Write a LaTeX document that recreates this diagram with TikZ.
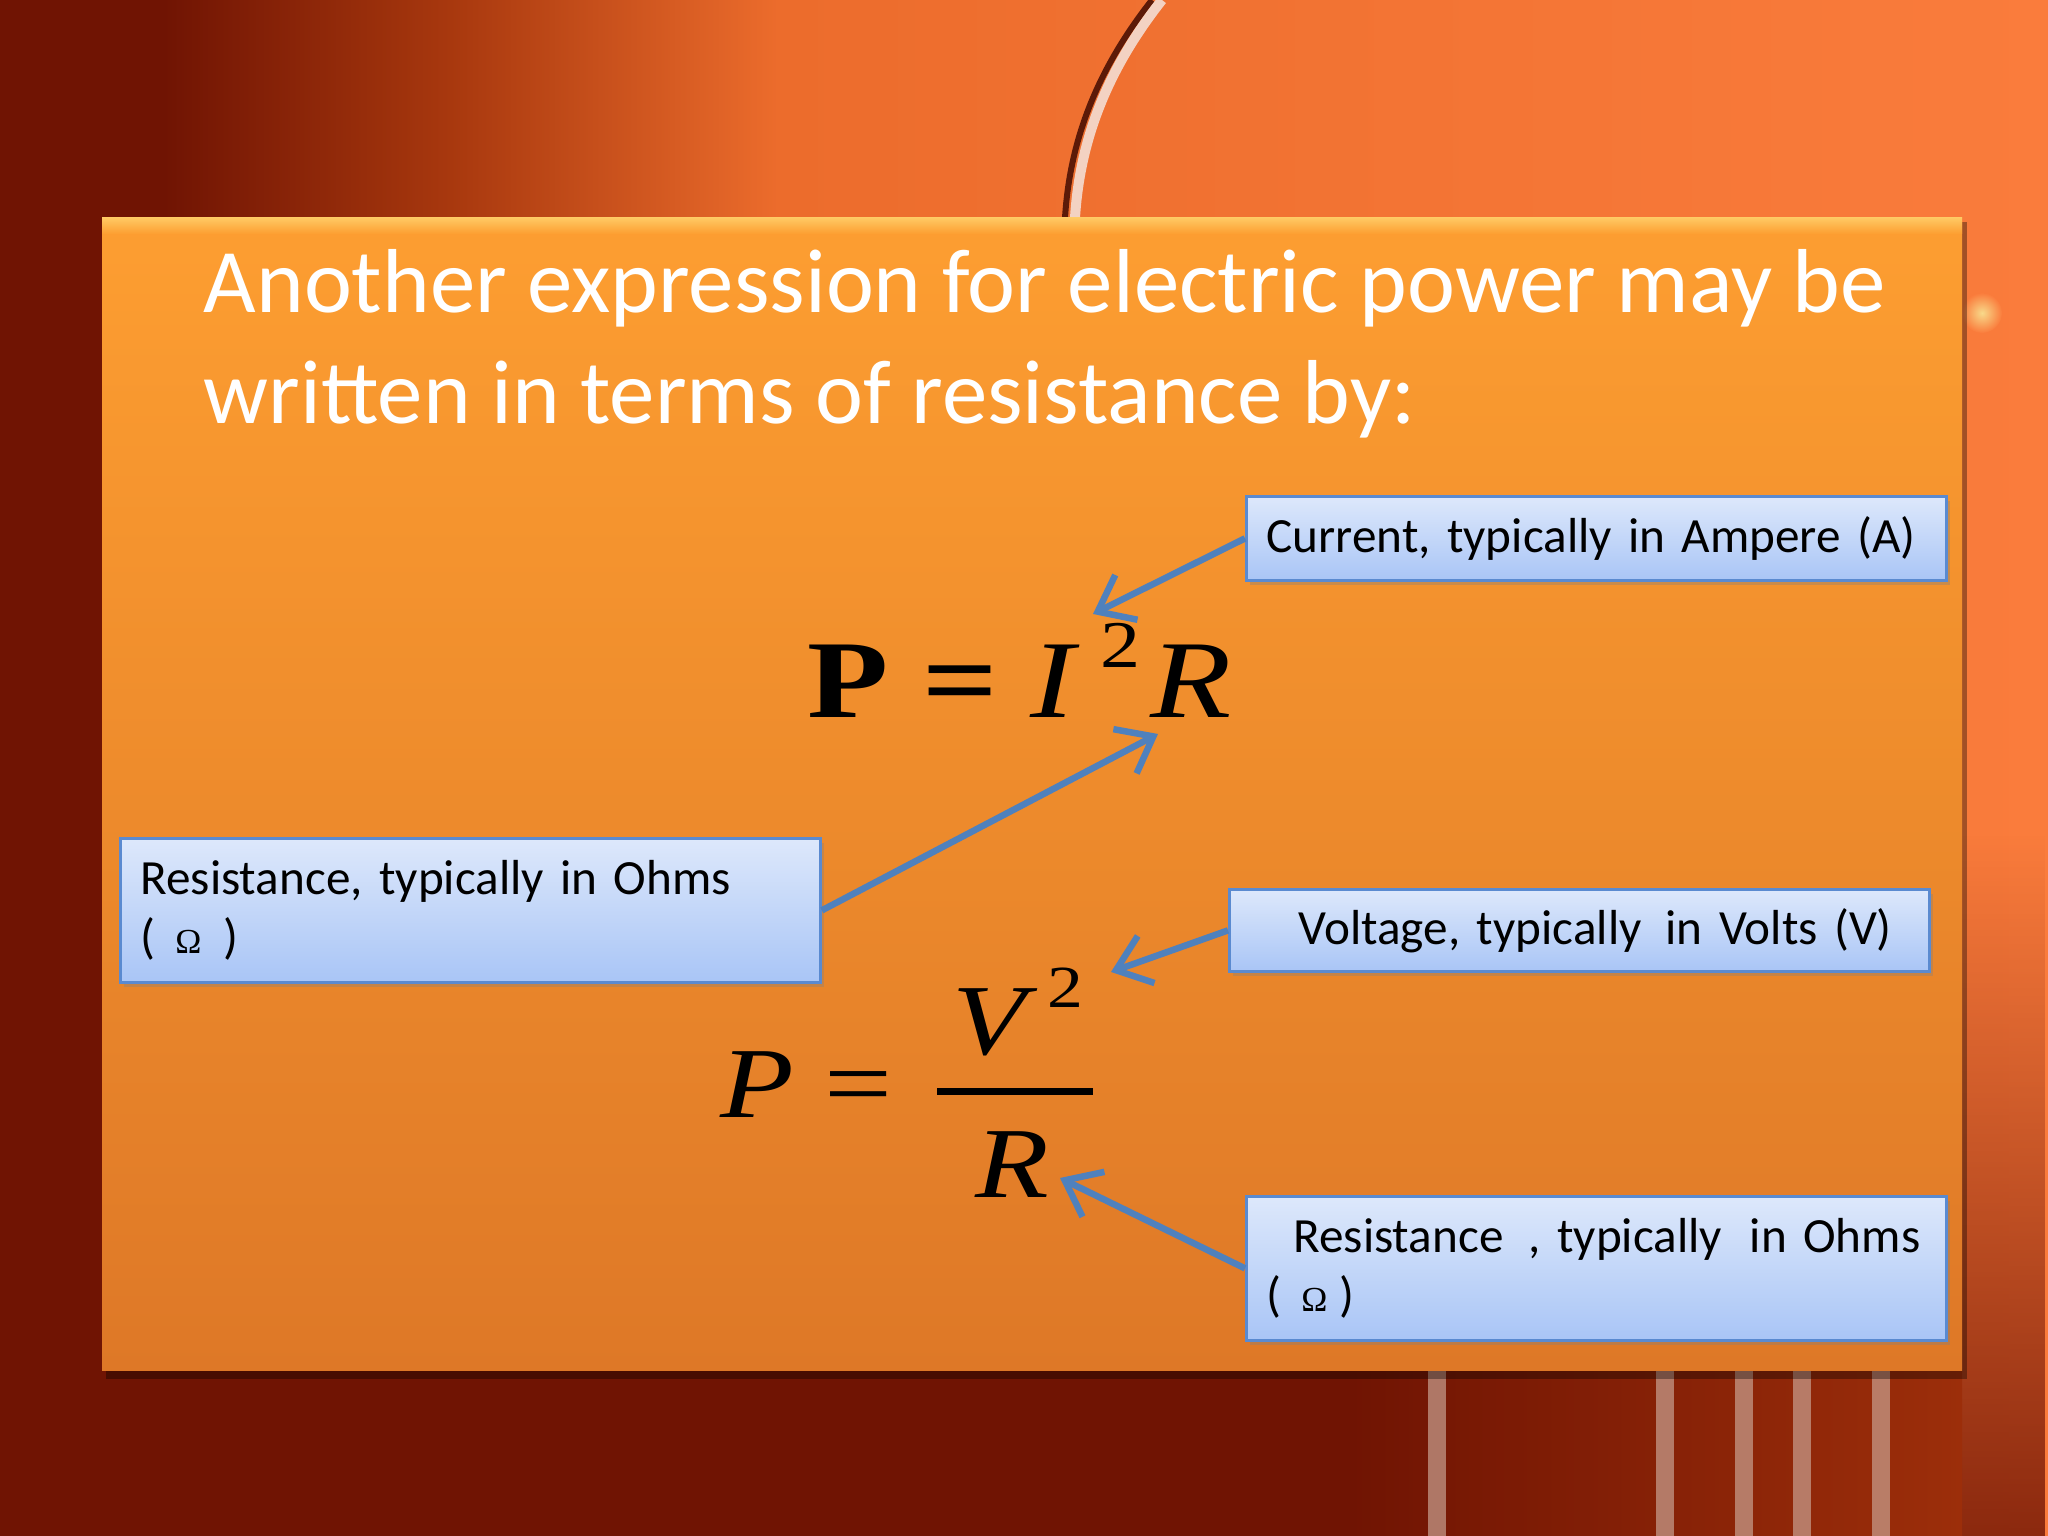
\documentclass[tikz,border=0pt]{standalone}
\usepackage{fontspec}
\setmainfont{Carlito}
\newfontfamily\eqfont[FakeStretch=1.2]{Liberation Serif}
\newfontfamily\symfont{Liberation Serif}
\usetikzlibrary{arrows.meta,shadows,fadings}
\definecolor{bgdeep}{HTML}{701403}
\definecolor{bgrust}{HTML}{A8380E}
\definecolor{rustdark}{HTML}{9C2E0A}
\definecolor{bgorange}{HTML}{EC6C2C}
\definecolor{bglight}{HTML}{FA7C3C}
\definecolor{panelhi}{HTML}{FD9E31}
\definecolor{panello}{HTML}{DE7827}
\definecolor{panelrim}{HTML}{FFC862}
\definecolor{boxtop}{HTML}{DDE8FB}
\definecolor{boxbottom}{HTML}{A9C5F6}
\definecolor{boxline}{HTML}{5A8AD0}
\definecolor{arrowblue}{HTML}{4F81BD}
\definecolor{rod}{HTML}{C8A090}
\definecolor{bulbedge}{HTML}{5C1A08}
\definecolor{bulbglass}{HTML}{F3D2C2}
\definecolor{glint}{HTML}{F8D98A}
\pgfdeclarehorizontalshading{backdrop}{100bp}{color(0bp)=(bgdeep); color(29bp)=(bgdeep); color(36bp)=(bgrust); color(44bp)=(bgorange); color(75bp)=(bglight); color(100bp)=(bglight)}

\begin{document}
\begin{tikzpicture}[
    callout/.style={draw=boxline, line width=0.8pt, top color=boxtop, bottom color=boxbottom,
      anchor=north west, minimum width=7cm, text width=6.6cm, inner xsep=0.2cm, inner ysep=0pt,
      align=left, text=black, font=\fontsize{14pt}{17pt}\selectfont,
      drop shadow={shadow xshift=0.04cm, shadow yshift=-0.05cm, opacity=0.35}},
    pointer/.style={draw=arrowblue, line width=0.065cm, -{Straight Barb[length=0.32cm,width=0.5cm]}},
    headline/.style={text=white, inner sep=0pt, anchor=base west, font=\fontsize{25.85pt}{31pt}\selectfont},
    formula/.style={text=black, inner sep=0pt, anchor=base west, font=\eqfont\fontsize{28.6pt}{29pt}\selectfont}]
  \useasboundingbox (0,0) rectangle (20.48,15.36);

  % Backdrop: dark red at the left running into warm orange, darker near the foot.
  \shade[shading=backdrop] (0,0) rectangle (20.48,15.36);
  \fill[bgdeep, path fading=north, opacity=0.8] (0,0) rectangle (20.48,7);
  \fill[bgdeep] (0,0) rectangle (13.5,1.66);
  \shade[left color=bgdeep, right color=rustdark] (13.5,0) rectangle (19.62,1.66);

  % Glass edge of the bulb, its glint and the lead wires below the board.
  \draw[bulbedge, line width=0.06cm] (11.52,15.36) .. controls (11.0,14.7) and (10.7,14.0) .. (10.65,13.18);
  \draw[bulbglass, line width=0.1cm] (11.62,15.36) .. controls (11.1,14.7) and (10.8,14.0) .. (10.75,13.18);
  \shade[inner color=glint, outer color=bglight] (19.82,12.23) circle (0.2);
  \foreach \x in {14.37,16.65,17.44,18.02,18.81}
    \fill[rod, opacity=0.7] (\x-0.09,0) rectangle (\x+0.09,1.65);

  % The orange board with a light rim along its top.
  \fill[black, opacity=0.35] (1.06,1.57) rectangle (19.67,13.14);
  \shade[top color=panelhi, bottom color=panello] (1.02,1.65) rectangle (19.62,13.18);
  \shade[top color=panelrim, bottom color=panelhi] (1.02,13.02) rectangle (19.62,13.18);

  \node[headline] (line1) at (2.03,12.23) {Another expression for electric power may be};
  \node[headline] (line2) at (2.03,11.12) {written in terms of resistance by:};

  % The two formulas; the fraction bar is drawn by hand.
  \node[formula, font=\eqfont\fontsize{31.5pt}{32pt}\selectfont] (powcur) at (8.07,8.18)
    {\textbf{P =} \textit{I}\hspace{0.2cm}\raisebox{0.5cm}{\fontsize{19pt}{19pt}\selectfont 2}\hspace{0.1cm}\textit{R}};
  \node[formula] (powvolt) at (7.20,4.18) {\textit{P} =};
  \node[formula] (numer) at (9.52,4.81) {\textit{V}\hspace{0.1cm}\raisebox{0.47cm}{\fontsize{17pt}{17pt}\selectfont 2}};
  \node[formula] (denom) at (9.75,3.38) {\textit{R}};
  \draw[line width=0.07cm] (9.37,4.44) -- (10.93,4.44);

  % Callouts naming each quantity.
  \node[callout, minimum height=0.84cm] (current) at (12.45,10.41) {Current, typically in Ampere (A)};
  \node[callout, minimum height=1.44cm] (ohmsleft) at (1.19,6.99)
    {Resistance, typically in Ohms\\(\hspace{0.2cm}{\symfont\fontsize{10pt}{10pt}\selectfont Ω}\hspace{0.22cm})};
  \node[callout, minimum height=0.82cm] (voltage) at (12.28,6.48) {\hspace*{0.49cm}Voltage, typically\hspace{0.24cm}in Volts (V)};
  \node[callout, minimum height=1.44cm] (ohmsright) at (12.45,3.41)
    {\hspace*{0.27cm}Resistance\hspace{0.25cm}, typically\hspace{0.28cm}in Ohms\\(\hspace{0.2cm}{\symfont\fontsize{10pt}{10pt}\selectfont Ω}\hspace{0.12cm})};

  \coordinate (tipI) at (10.93,9.22);
  \coordinate (tipR) at (11.58,8.02);
  \coordinate (tipV) at (11.11,5.64);
  \coordinate (tipRb) at (10.60,3.58);
  \draw[pointer] (current.west) -- (tipI);
  \draw[pointer] (ohmsleft.east) -- (tipR);
  \draw[pointer] (voltage.west) -- (tipV);
  \draw[pointer] (ohmsright.west) -- (tipRb);
\end{tikzpicture}
\end{document}
